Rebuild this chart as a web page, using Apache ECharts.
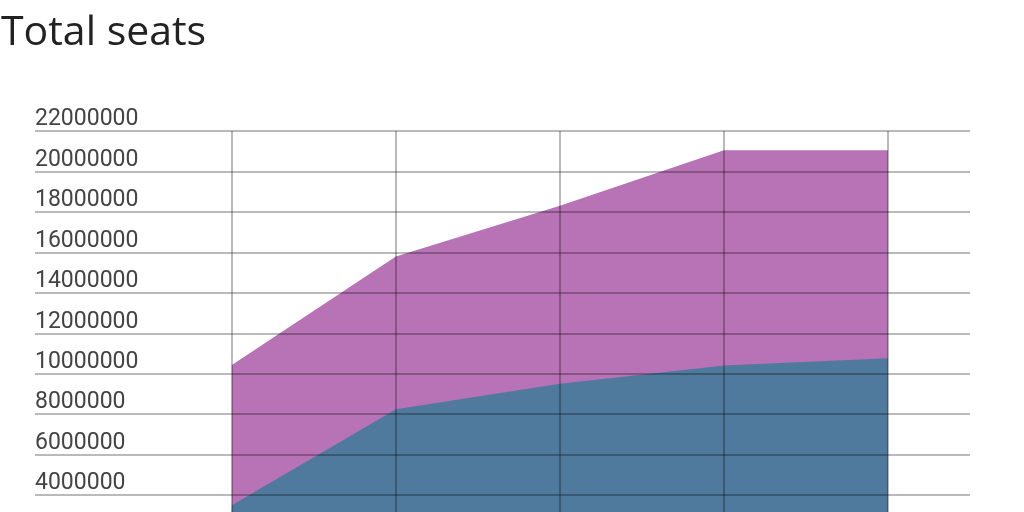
<!DOCTYPE html>
<html>
<head>
<meta charset="utf-8">
<script src="https://cdn.jsdelivr.net/npm/echarts@6/dist/echarts.min.js"></script>
<style>
html,body{margin:0;padding:0;overflow:hidden;background:#fff;}
#chart{width:1024px;height:600px;}
</style>
</head>
<body>
<div id="chart"></div>
<script>
// x positions of the five data points (offscreen x labels unknown)
const xPositions = [1, 2, 3, 4, 5];
// lower (blue) layer, seats
const blueSeats = [3500000, 8240000, 9500000, 10410000, 10760000];
// upper (purple) layer, seats added on top of blue
const purpleSeats = [6930000, 7550000, 8800000, 10640000, 10290000];
// y tick range
const yMin = 0, yMax = 22000000, yStep = 2000000;

const gridColor = 'rgba(0,0,0,0.36)';
const pair = (arr) => arr.map((v, i) => [xPositions[i], v]);
const totalSeats = blueSeats.map((v, i) => v + purpleSeats[i]);

const chart = echarts.init(document.getElementById('chart'), null, {renderer: 'canvas'});
chart.setOption({
  animation: false,
  backgroundColor: '#fff',
  title: {
    text: 'Total seats',
    left: 1, top: 13,
    padding: 0,
    textStyle: {fontFamily: 'Open Sans', fontWeight: 'normal', fontSize: 41, color: '#222'}
  },
  grid: {left: 35, right: 54, top: 131, bottom: 24, containLabel: false},
  xAxis: {
    type: 'value', min: -0.2, max: 5.5,
    axisLine: {show: false}, axisTick: {show: false}, axisLabel: {show: false},
    splitLine: {show: false}
  },
  yAxis: {
    type: 'value', min: yMin, max: yMax, interval: yStep,
    axisLine: {show: false}, axisTick: {show: false},
    splitLine: {show: false},
    axisLabel: {
      inside: true, margin: 0, align: 'left', verticalAlign: 'bottom',
      padding: [0, 0, 0, 0],
      formatter: (v) => String(v),
      fontFamily: 'Roboto', fontSize: 23, color: '#444',
      showMaxLabel: true
    }
  },
  series: [
    {
      name: 'purple', type: 'line', data: pair(totalSeats),
      symbol: 'none', lineStyle: {width: 0}, z: 2,
      areaStyle: {color: '#b773b5', opacity: 1}
    },
    {
      name: 'blue', type: 'line', data: pair(blueSeats),
      symbol: 'none', lineStyle: {width: 0}, z: 3,
      areaStyle: {color: '#4f7a9e', opacity: 1}
    },
    {
      name: 'grid', type: 'line', data: pair(blueSeats),
      symbol: 'none', lineStyle: {opacity: 0}, z: 10, silent: true,
      markLine: {
        silent: true, symbol: 'none', label: {show: false},
        lineStyle: {color: gridColor, type: 'solid', width: 1.5},
        data: [
          ...xPositions.map(x => ({xAxis: x})),
          ...Array.from({length: Math.round((yMax - yMin) / yStep) + 1}, (_, i) => ({yAxis: yMin + i * yStep}))
        ],
        animation: false
      }
    }
  ]
});
</script>
</body>
</html>
